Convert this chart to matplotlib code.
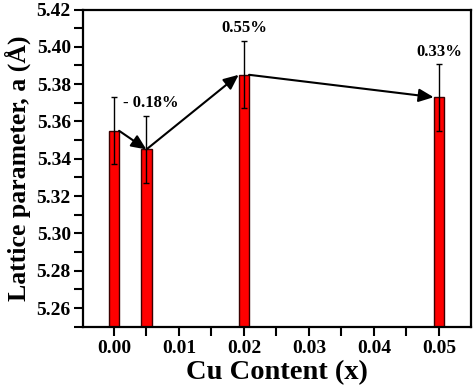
import matplotlib
matplotlib.use("Agg")
import matplotlib.pyplot as plt
from matplotlib.ticker import MultipleLocator

cu_content = [0.000, 0.005, 0.020, 0.050]
lattice_a = [5.355, 5.345, 5.385, 5.373]
lattice_err = [0.018, 0.018, 0.018, 0.018]
change_labels = ["- 0.18%", "0.55%", "0.33%"]
x_ticks = [0.00, 0.01, 0.02, 0.03, 0.04, 0.05]
y_ticks = [5.26, 5.28, 5.30, 5.32, 5.34, 5.36, 5.38, 5.40, 5.42]

plt.rcParams['font.family'] = ['Liberation Serif', 'DejaVu Serif']
plt.rcParams['font.weight'] = 'bold'

fig = plt.figure(figsize=(4.74, 3.88), dpi=100)
ax = fig.add_axes([82.7/474, 1 - 326.7/388, (470.7-82.7)/474, (326.7-9.5)/388])

bw = 0.0016
ax.bar(cu_content, lattice_a, width=bw, color='#ff0000', edgecolor='#3a0000',
       linewidth=1.0, zorder=2)
ax.errorbar(cu_content, lattice_a, yerr=lattice_err, fmt='none', ecolor='black',
            elinewidth=1.0, capsize=2.5, capthick=1.0, zorder=3)

# arrows between bar tops
akw = dict(arrowstyle='-|>,head_length=0.9,head_width=0.4', color='black', lw=1.5,
           shrinkA=0, shrinkB=0)
ax.annotate('', xy=(cu_content[1], lattice_a[1]),
            xytext=(cu_content[0] + bw/2, lattice_a[0]), arrowprops=akw, zorder=4)
ax.annotate('', xy=(cu_content[2] - bw/2, lattice_a[2]),
            xytext=(cu_content[1], lattice_a[1]), arrowprops=akw, zorder=4)
ax.annotate('', xy=(cu_content[3] - bw/2, lattice_a[3]),
            xytext=(cu_content[2] + bw/2, lattice_a[2]), arrowprops=akw, zorder=4)

ax.text(0.00135, 5.3697, change_labels[0], ha='left', va='center', fontsize=12,
        fontweight='bold')
ax.text(cu_content[2], 5.4103, change_labels[1], ha='center', va='center',
        fontsize=12, fontweight='bold')
ax.text(cu_content[3], 5.397, change_labels[2], ha='center', va='center',
        fontsize=12, fontweight='bold')

ax.set_xlim(-0.0048, 0.0549)
ax.set_ylim(5.25, 5.4195)
ax.set_xticks(x_ticks)
ax.set_xticklabels([f"{t:.2f}" for t in x_ticks], fontsize=14, fontweight='bold')
ax.set_yticks(y_ticks)
ax.set_yticklabels([f"{t:.2f}" for t in y_ticks], fontsize=14, fontweight='bold')
ax.xaxis.set_minor_locator(MultipleLocator(0.005))
ax.yaxis.set_minor_locator(MultipleLocator(0.01))
ax.tick_params(axis='both', which='both', direction='out', width=1.5,
               top=False, right=False)
ax.tick_params(axis='both', which='both', length=6.5)
ax.tick_params(axis='y', which='major', pad=2)
ax.tick_params(axis='x', which='major', pad=3)
for s in ax.spines.values():
    s.set_linewidth(1.6)

ax.set_xlabel('Cu Content (x)', fontsize=20.5, fontweight='bold', labelpad=2.5)
ax.set_ylabel('Lattice parameter, a (Å)', fontsize=18.5, fontweight='bold', labelpad=4)

fig.savefig('out.png', dpi=100)
